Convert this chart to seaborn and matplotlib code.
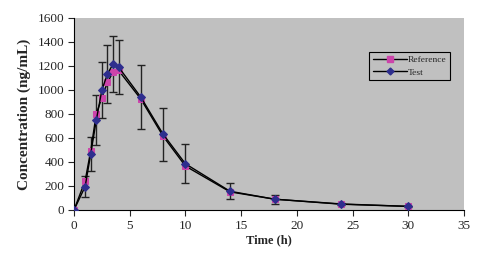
import seaborn as sns
import numpy as np
import matplotlib.pyplot as plt
import pandas as pd
from matplotlib.lines import Line2D

# data
time_h = [0, 1, 1.5, 2, 2.5, 3, 3.5, 4, 6, 8, 10, 14, 18, 24, 30]
reference = [0, 243, 494, 801, 935, 1063, 1147, 1163, 924, 614, 366, 151, 90, 48, 30]
test = [0, 195, 466, 748, 999, 1133, 1216, 1191, 940, 631, 385, 156, 90, 50, 30]
test_sd = [0, 85, 145, 208, 235, 245, 237, 228, 267, 220, 162, 68, 39, 10, 5]

df = pd.DataFrame({'time': time_h * 2,
                   'conc': reference + test,
                   'series': ['Reference'] * len(time_h) + ['Test'] * len(time_h)})

sns.set_style("ticks", rc={'axes.facecolor': '#C0C0C0',
                           'axes.edgecolor': 'k',
                           'xtick.direction': 'out',
                           'ytick.direction': 'out'})
plt.rcParams['font.family'] = ['Liberation Serif', 'DejaVu Serif']

fig = plt.figure(figsize=(5, 2.72), dpi=100)
ax = fig.add_axes([0.148, 0.228, 0.78, 0.706])

ax.errorbar(time_h, test, yerr=test_sd, fmt='none', ecolor='#222222',
            elinewidth=1.0, capsize=3, capthick=1.0, zorder=2)

sns.lineplot(data=df, x='time', y='conc', hue='series', style='series',
             palette={'Reference': 'k', 'Test': 'k'},
             markers={'Reference': 's', 'Test': 'D'},
             dashes=False, linewidth=1.0, ax=ax, zorder=3, legend=False)

# recolour markers
mcolors = {'Reference': '#CC44AA', 'Test': '#2E2E8E'}
for ln, name in zip(ax.get_lines()[-2:], ['Reference', 'Test']):
    ln.set_markerfacecolor(mcolors[name])
    ln.set_markeredgecolor(mcolors[name])
    ln.set_markersize(4.6 if name == 'Reference' else 4.4)

ax.set_xlim(0, 35)
ax.set_ylim(0, 1600)
ax.set_xticks(np.arange(0, 36, 5))
ax.set_yticks(np.arange(0, 1601, 200))
ax.tick_params(labelsize=9.5, length=4, width=0.8, pad=3)
ax.set_xlabel('Time (h)', fontsize=9, fontweight='bold', labelpad=2)
ax.set_ylabel('Concentration (ng/mL)', fontsize=11, fontweight='bold', labelpad=5)
ax.spines['top'].set_visible(False)
ax.spines['right'].set_visible(False)

handles = [Line2D([0], [0], color='k', lw=1, marker='s', ms=4,
                  mfc=mcolors['Reference'], mec=mcolors['Reference']),
           Line2D([0], [0], color='k', lw=1, marker='D', ms=3.5,
                  mfc=mcolors['Test'], mec=mcolors['Test'])]
leg = ax.legend(handles, ['Reference', 'Test'], loc='upper left',
                bbox_to_anchor=(0.756, 0.823), borderaxespad=0,
                fontsize=6.8, frameon=True,
                fancybox=False, edgecolor='k', framealpha=1,
                handlelength=3.6, handletextpad=0.1, borderpad=0.4,
                labelspacing=0.4)
leg.get_frame().set_linewidth(0.8)

fig.savefig('out.png', dpi=100)
